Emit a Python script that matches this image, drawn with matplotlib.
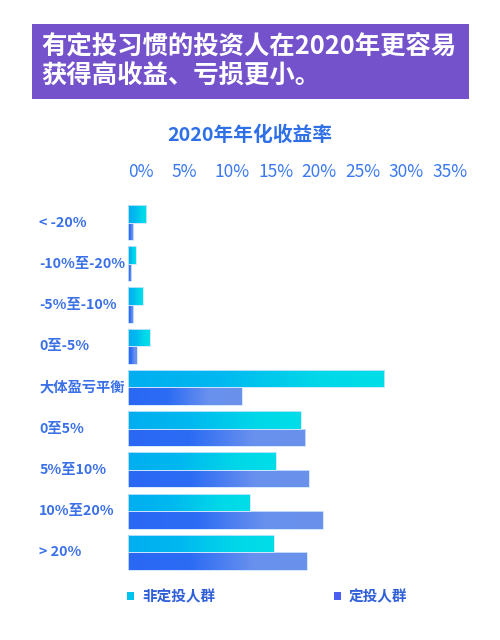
import numpy as np
import matplotlib
matplotlib.use("Agg")
import matplotlib.pyplot as plt
from matplotlib.patches import Rectangle, Patch
from matplotlib.colors import LinearSegmentedColormap

plt.rcParams['font.family'] = ['Noto Sans CJK SC', 'DejaVu Sans']

# ---------------- data ----------------
categories = ["< -20%", "-10%至-20%", "-5%至-10%", "0至-5%", "大体盈亏平衡",
              "0至5%", "5%至10%", "10%至20%", "> 20%"]
non_sip = [2.1, 0.9, 1.7, 2.5, 29.5, 19.9, 17.0, 14.0, 16.8]   # 非定投人群
sip     = [0.6, 0.35, 0.6, 1.0, 13.1, 20.4, 20.8, 22.4, 20.6]  # 定投人群
xticks = [0, 5, 10, 15, 20, 25, 30, 35]
xticklabels = ["0%", "5%", "10%", "15%", "20%", "25%", "30%", "35%"]
series_names = ["非定投人群", "定投人群"]
title = "有定投习惯的投资人在2020年更容易\n获得高收益、亏损更小。"
subtitle = "2020年年化收益率"

W, H = 500, 640
fig = plt.figure(figsize=(W / 100, H / 100), dpi=100)
fig.patch.set_facecolor("white")

# title box
fig.patches.append(Rectangle((31.7 / W, 1 - 99.3 / H), (469 - 31.7) / W, (99.3 - 24) / H,
                             transform=fig.transFigure, facecolor="#7452cc",
                             edgecolor="none", zorder=0))
fig.text(41.5 / W, 1 - 46.5 / H, title.split("\n")[0], color="white", fontsize=18.3,
         fontweight="bold", ha="left", va="center")
fig.text(41.5 / W, 1 - 75 / H, title.split("\n")[1], color="white", fontsize=18.3,
         fontweight="bold", ha="left", va="center")

fig.text(250 / W, 1 - 135 / H, subtitle, color="#2f6fe8", fontsize=14.2,
         fontweight="bold", ha="center", va="center")

# axes
ax_left, ax_right = 128, 432
ax_top, ax_bot = 201.9, 573
ax = fig.add_axes([ax_left / W, 1 - ax_bot / H, (ax_right - ax_left) / W, (ax_bot - ax_top) / H])
ax.set_xlim(0, 35)
ax.set_ylim(len(categories) - 0.5, -0.5)
for s in ax.spines.values():
    s.set_visible(False)

y = np.arange(len(categories))
h = 0.425
b1 = ax.barh(y - h / 2, non_sip, height=h, facecolor="none", edgecolor="none")
b2 = ax.barh(y + h / 2, sip, height=h, facecolor="none", edgecolor="none")

cm_cyan = LinearSegmentedColormap.from_list("c", [(0, "#00aef0"), (0.35, "#00b8f0"), (0.75, "#00d8e8"), (1, "#00dee8")])
cm_blue = LinearSegmentedColormap.from_list("b", [(0, "#2a68f4"), (0.35, "#2c6cf4"), (0.7, "#6890ee"), (1, "#6a92ec")])
grad = np.linspace(0, 1, 256).reshape(1, -1)
for bars, cm in ((b1, cm_cyan), (b2, cm_blue)):
    for p in bars.patches:
        x0, y0 = p.get_x(), p.get_y()
        w, hh = p.get_width(), p.get_height()
        im = ax.imshow(grad, cmap=cm, aspect="auto", extent=[x0, x0 + w, y0 + hh, y0],
                       interpolation="bicubic", zorder=2)
        im.set_clip_path(p)
        ax.add_patch(Rectangle((x0, y0), w, hh, facecolor="none", edgecolor="#cfe6ff",
                               linewidth=0.6, zorder=3))
ax.set_xlim(0, 35)
ax.set_ylim(len(categories) - 0.5, -0.5)

ax.xaxis.tick_top()
ax.set_xticks(xticks)
ax.set_xticklabels(xticklabels, color="#3a78f0", fontsize=12.5)
for t in ax.get_xticklabels():
    t.set_horizontalalignment("left")
ax.tick_params(axis="x", length=0, pad=15)

ax.set_yticks(y)
ax.set_yticklabels(categories, color="#3a70e8", fontsize=10.3, fontweight="bold")
for t in ax.get_yticklabels():
    t.set_horizontalalignment("left")
    t.set_verticalalignment("center")
ax.tick_params(axis="y", length=0, pad=64)

handles = [Patch(facecolor="#00c4ee", edgecolor="none"),
           Patch(facecolor="#4a5ef0", edgecolor="none")]
fig.legend(handles, series_names, loc="upper left", bbox_to_anchor=(127 / W, 1 - 588 / H),
           ncol=2, frameon=False, borderpad=0, borderaxespad=0, handlelength=0.5,
           handleheight=0.5, handletextpad=0.55, columnspacing=8.1,
           prop={"size": 10.5, "weight": "bold"}, labelcolor="#2f5fd8")

fig.savefig("out.png", dpi=100, facecolor="white")
